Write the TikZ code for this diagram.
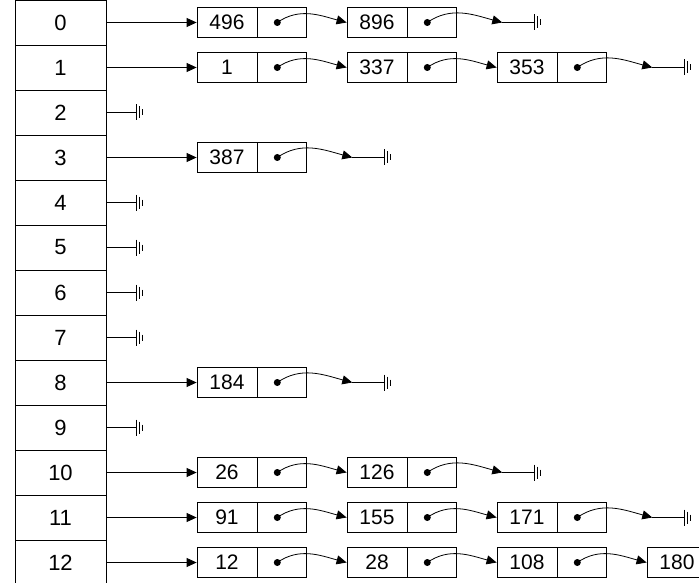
\documentclass[tikz,border=0pt]{standalone}
\usepackage{fontspec}
\setmainfont{Liberation Sans}
\usetikzlibrary{positioning, arrows.meta}

\tikzset{
  slot/.style = {draw, thick, minimum width=91pt, minimum height=45pt, inner sep=0pt, font=\fontsize{22}{22}\selectfont},
  val/.style = {draw, thick, minimum width=60pt, minimum height=30pt, inner sep=0pt, font=\fontsize{21}{21}\selectfont},
  ptr/.style = {draw, thick, minimum width=49pt, minimum height=30pt, inner sep=0pt},
  link/.style = {thick, -{Triangle[length=10pt,width=9pt]}},
  gnd/.pic = {\draw[thick] (0,-8) -- (0,8); \draw (3,-6) -- (3,6); \draw (6,-3) -- (6,3);}
}

\begin{document}
\begin{tikzpicture}[x=1pt, y=-1pt]
\useasboundingbox (0,0) rectangle (699,583);
\clip (0,0) rectangle (699,583);
% the table
\foreach \r in {0,...,12}
  \node[slot] (s\r) at (60.5,22.5+45*\r) {\r};
% the lists
\foreach \r/\lst in {0/{496,896}, 1/{1,337,353}, 3/{387}, 8/{184}, 10/{26,126},
                     11/{91,155,171}, 12/{12,28,108,180}} {
  \foreach \v [count=\k] in \lst {
    \node[val] (v\r-\k) at (227+150*\k-150,22.5+45*\r) {\v};
    \node[ptr, right=0pt of v\r-\k] (p\r-\k) {};
    \fill ([xshift=-5pt]p\r-\k.center) circle (3.5pt);
    \ifnum\k=1
      \draw[link] (s\r.east) -- (v\r-\k.west);
    \else
      \pgfmathtruncatemacro\prev{\k-1}
      \draw[link] ([xshift=-5pt]p\r-\prev.center) to[out=35,in=165] (v\r-\k.west);
    \fi
    \xdef\last{\k}
  }
  \ifnum\r<12
    \draw[link] ([xshift=-5pt]p\r-\last.center) to[out=35,in=165] ++(75,0) coordinate (e\r);
    \draw[thick] (e\r) -- ++(32,0) pic {gnd};
  \fi
}
% the empty rows
\foreach \r in {2,4,5,6,7,9}
  \draw[thick] (s\r.east) -- ++(30,0) pic {gnd};
\end{tikzpicture}
\end{document}
